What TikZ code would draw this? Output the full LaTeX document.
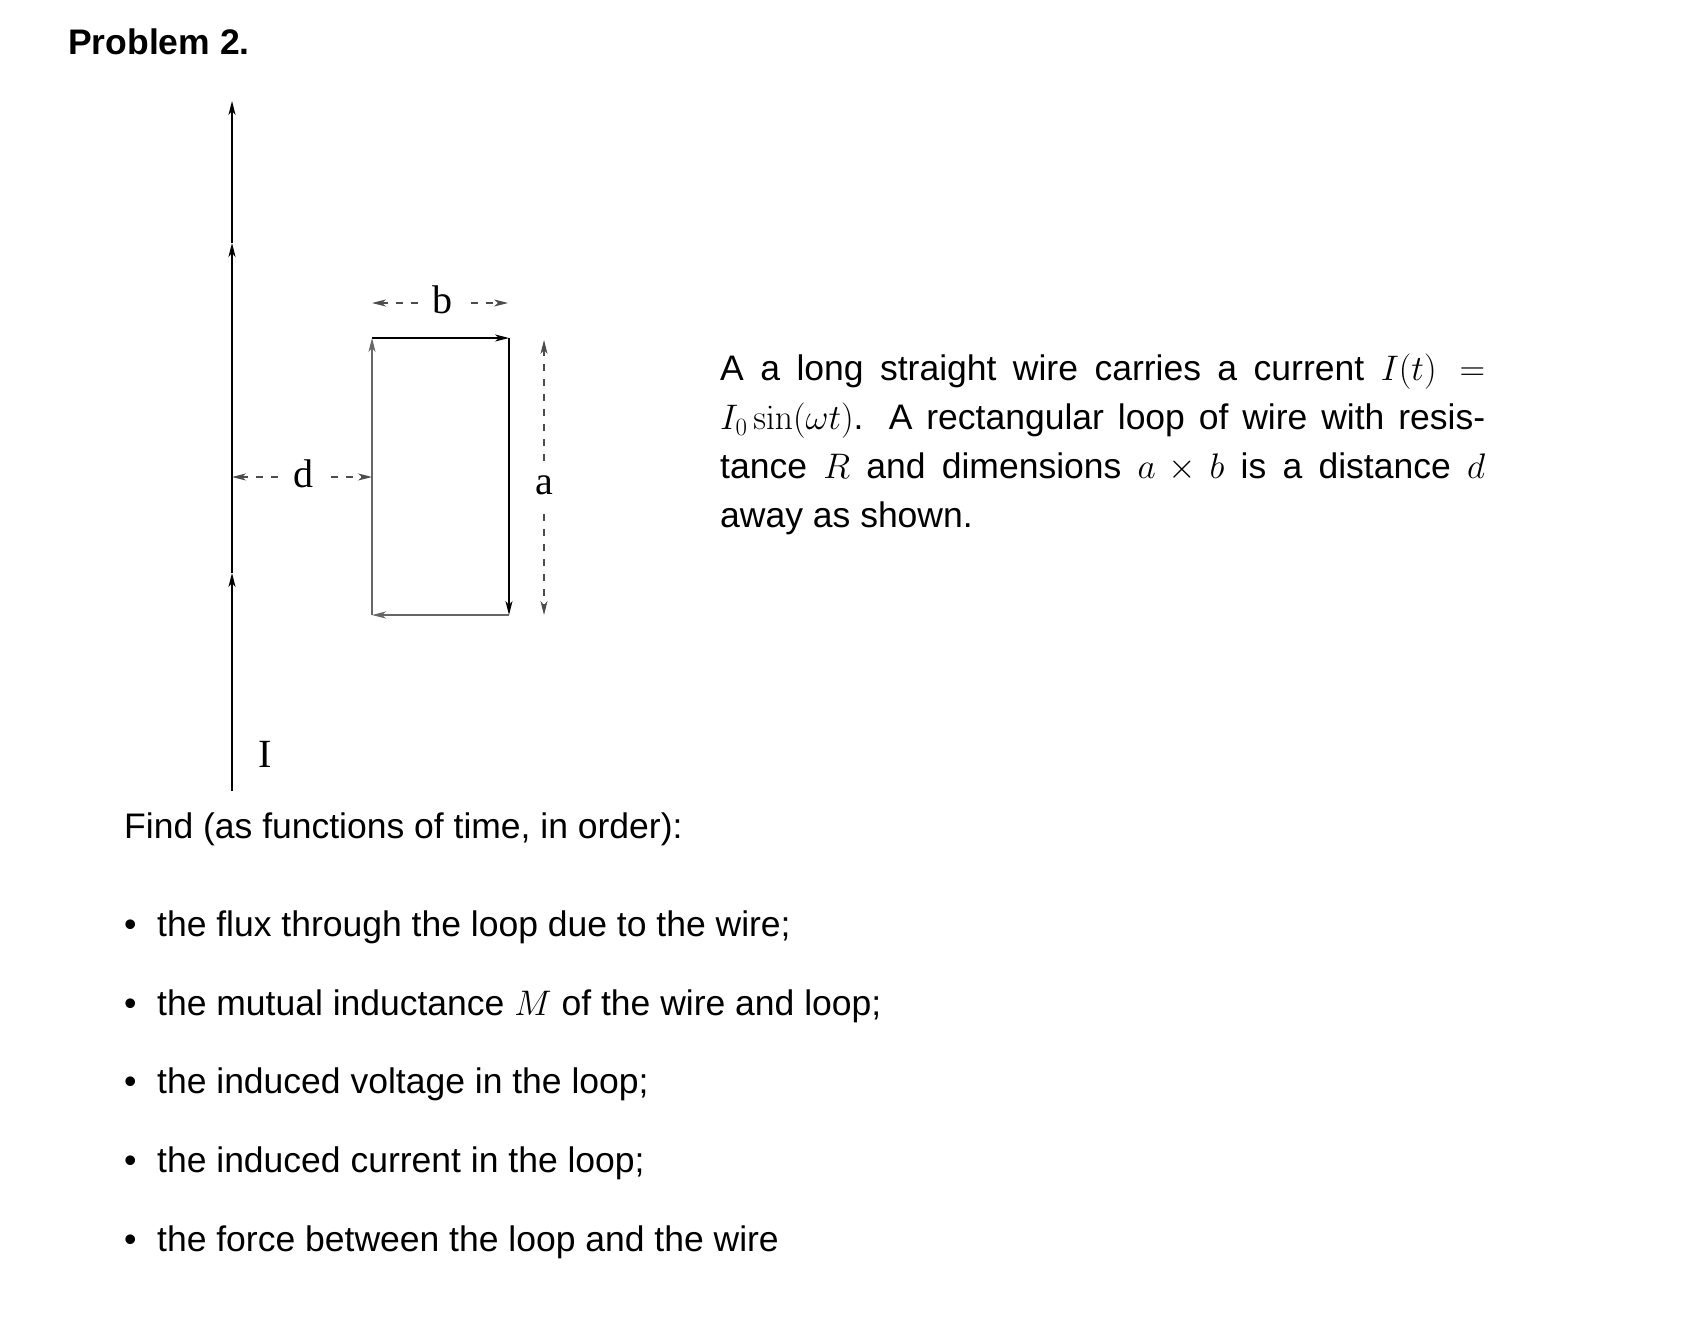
\documentclass[tikz,border=0pt]{standalone}
\usepackage{fix-cm}
\usepackage[no-math]{fontspec}
\setmainfont{Liberation Sans}
\newfontfamily\serifd{Liberation Serif}
\usetikzlibrary{arrows.meta}
\begin{document}
\begin{tikzpicture}[x=1pt,y=-1pt,
  txt/.style={anchor=base west,inner sep=0pt,font=\fontsize{35.5}{49}\selectfont},
  lbl/.style={inner sep=0pt,font=\serifd\fontsize{40}{40}\selectfont},
  arr/.style={-{Stealth[length=14pt,width=7pt,inset=4pt]},line width=1.2pt},
  dim/.style={{Stealth[length=14pt,width=7pt,inset=4pt]}-{Stealth[length=14pt,width=7pt,inset=4pt]},dash pattern=on 7pt off 8pt,line width=1.1pt,draw=black!70}]
\useasboundingbox (0,0) rectangle (1708,1322);
\node[txt,font=\bfseries\fontsize{35.5}{40}\selectfont] (title) at (68,55) {Problem 2.};
% wire
\coordinate (w0) at (232,791); \coordinate (w1) at (232,573); \coordinate (w2) at (232,243); \coordinate (w3) at (232,101);
\draw[arr] (w0) -- (w1);
\draw[arr] (w1) -- (w2);
\draw[arr] (w2) -- (w3);
\node[lbl,anchor=base] (I) at (265,767) {I};
% loop
\coordinate (tl) at (372,338); \coordinate (tr) at (509,338);
\coordinate (br) at (509,615); \coordinate (bl) at (372,615);
\draw[arr] (tl) -- (tr);
\draw[arr] (tr) -- (br);
\draw[arr,draw=black!60] (br) -- (bl);
\draw[arr,draw=black!60] (bl) -- (tl);
% dims
\coordinate (b0) at (372,303); \coordinate (b1) at (508,303);
\draw[dim] (b0) -- (b1);
\node[lbl,fill=white,inner xsep=12pt] (b) at (442,300) {b};
\coordinate (d0) at (232,477); \coordinate (d1) at (372,477);
\draw[dim] (d0) -- (d1);
\node[lbl,fill=white,inner xsep=12pt] (d) at (303,474) {d};
\coordinate (a0) at (544,340); \coordinate (a1) at (544,615);
\draw[dim] (a0) -- (a1);
\node[lbl,fill=white,inner ysep=14pt] (a) at (544,485) {a};
% paragraph
\node[txt,text width=765pt,align=justify,anchor=north west] (para) at (720,354)
 {A a long straight wire carries a current $I(t)=I_0\sin(\omega t)$. A rectangular loop of wire with resistance $R$ and dimensions $a\times b$ is a distance $d$\linebreak away as shown.};
\node[txt] (find) at (124,838) {Find (as functions of time, in order):};
\foreach \y/\t [count=\i] in {936/{the flux through the loop due to the wire;},
  1015/{the mutual inductance $M$ of the wire and loop;},
  1093/{the induced voltage in the loop;},
  1172/{the induced current in the loop;},
  1251/{the force between the loop and the wire}}{
  \node[txt] (bul\i) at (124,\y) {\textbullet};
  \node[txt] (it\i) at (157,\y) {\t};
}
\end{tikzpicture}
\end{document}
